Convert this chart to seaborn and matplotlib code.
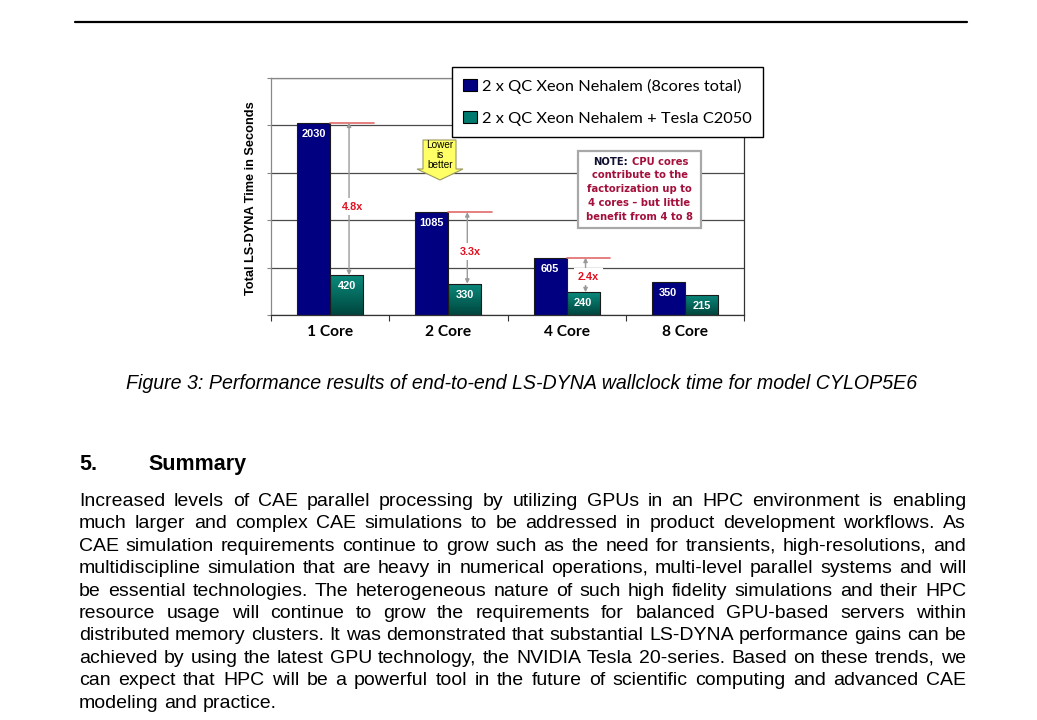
import numpy as np
import pandas as pd
import matplotlib
matplotlib.use("Agg")
import matplotlib.pyplot as plt
import seaborn as sns
from matplotlib.patches import Patch, Polygon, Rectangle
from matplotlib.lines import Line2D
from matplotlib.colors import LinearSegmentedColormap

# chart data
cores = ["1 Core", "2 Core", "4 Core", "8 Core"]
cpu_only = [2030, 1085, 605, 350]
cpu_gpu = [420, 330, 240, 215]
series_names = ["2 x QC Xeon Nehalem (8cores total)",
                "2 x QC Xeon Nehalem + Tesla C2050"]
speedup_labels = ["4.8x", "3.3x", "2.4x"]
y_ticks = [0, 500, 1000, 1500, 2000, 2500]

caption = "Figure 3: Performance results of end-to-end LS-DYNA wallclock time for model CYLOP5E6"
summary_lines = [
    "Increased levels of CAE parallel processing by utilizing GPUs in an HPC environment is enabling",
    "much larger and complex CAE simulations to be addressed in product development workflows. As",
    "CAE simulation requirements continue to grow such as the need for transients, high-resolutions, and",
    "multidiscipline simulation that are heavy in numerical operations, multi-level parallel systems and will",
    "be essential technologies. The heterogeneous nature of such high fidelity simulations and their HPC",
    "resource usage will continue to grow the requirements for balanced GPU-based servers within",
    "distributed memory clusters. It was demonstrated that substantial LS-DYNA performance gains can be",
    "achieved by using the latest GPU technology, the NVIDIA Tesla 20-series. Based on these trends, we",
    "can expect that HPC will be a powerful tool in the future of scientific computing and advanced CAE",
    "modeling and practice.",
]

df = pd.DataFrame({
    "config": cores * 2,
    "series": [series_names[0]] * len(cores) + [series_names[1]] * len(cores),
    "seconds": cpu_only + cpu_gpu,
})

NAVY = "#000080"
TEAL = "#007a6e"
CRIMSON = "#a3103c"

W, H = 1037, 720
def fx(x):
    return x / W
def fy(y):
    return 1 - y / H

sns.set_style("white")
plt.rcParams["text.color"] = "black"
plt.rcParams["axes.labelcolor"] = "black"
plt.rcParams["xtick.color"] = "black"
fig = plt.figure(figsize=(W / 100, H / 100), dpi=100)
fig.patch.set_facecolor("white")

ax = fig.add_axes([fx(271), fy(315), (744 - 271) / W, (315 - 78) / H])
sns.barplot(data=df, x="config", y="seconds", hue="series", order=cores,
            hue_order=series_names, palette=[NAVY, TEAL], saturation=1,
            width=0.56, errorbar=None, edgecolor="#1a1a1a", linewidth=0.8,
            legend=False, ax=ax)

# teal gradient on the GPU bars
teal_cmap = LinearSegmentedColormap.from_list("teal", ["#00463e", "#0a8a7c"])
grad = np.linspace(0, 1, 64).reshape(-1, 1)
for p in ax.containers[1]:
    x0, y0 = p.get_xy()
    im = ax.imshow(grad, extent=[x0, x0 + p.get_width(), y0, y0 + p.get_height()],
                   origin="lower", aspect="auto", cmap=teal_cmap, zorder=0.9)
    im.set_clip_path(p)
    p.set_facecolor("none")
    p.set_zorder(1)

ax.set_xlim(-0.5, len(cores) - 0.5)
ax.set_ylim(0, 2500)
ax.set_axisbelow(True)
ax.set_yticks(y_ticks)
ax.set_yticklabels([])
ax.yaxis.grid(True, color="#4a4a4a", lw=0.9)
ax.tick_params(axis="y", left=True, length=3, width=0.8, color="#888888")
ax.set_xticks(range(len(cores)))
ax.set_xticklabels(cores, family="Lato", weight="bold", fontsize=11.2, color="black")
ax.set_xticks(np.arange(-0.5, len(cores), 1.0), minor=True)
ax.tick_params(axis="x", which="major", length=0, pad=7)
ax.tick_params(axis="x", which="minor", bottom=True, length=4, width=0.8, color="#333333")
ax.set_xlabel("")
ax.set_ylabel("")
for side, col in [("left", "#888888"), ("top", "#888888"), ("right", "#333333"), ("bottom", "#333333")]:
    ax.spines[side].set_visible(True)
    ax.spines[side].set_color(col)
    ax.spines[side].set_linewidth(0.9)

# value labels inside the bars
for cont in ax.containers:
    for p, v in zip(cont, cont.datavalues):
        ax.annotate(f"{v:.0f}", xy=(p.get_x() + p.get_width() / 2, p.get_height()),
                    xytext=(0, -11), textcoords="offset pixels", ha="center", va="center",
                    color="white", weight="bold", fontsize=7.9,
                    family="Liberation Sans", zorder=3)

# speed-up markers
for i, lbl in enumerate(speedup_labels):
    top, bot = cpu_only[i], cpu_gpu[i]
    ax.plot([i, i + 0.37], [top, top], color="#e06a6a", lw=1.2, zorder=2)
    ax.annotate("", xy=(i + 0.16, bot), xytext=(i + 0.16, top),
                arrowprops=dict(arrowstyle="<|-|>", color="#9a9a9a", lw=1,
                                mutation_scale=6, shrinkA=0, shrinkB=0), zorder=2)
    ax.text(i + 0.185, 0.45 * top + 0.55 * bot, lbl, color="#e01020", weight="bold",
            fontsize=7.8, ha="center", va="center", zorder=3, family="Liberation Sans",
            bbox=dict(facecolor="white", edgecolor="none", pad=2.5))

fig.text(fx(251), fy(198), "Total LS-DYNA Time in Seconds", rotation=90,
         ha="center", va="center", weight="bold", fontsize=9.2, family="Liberation Sans")

# legend
handles = [Patch(facecolor=NAVY, edgecolor="black", lw=0.8),
           Patch(facecolor=TEAL, edgecolor="black", lw=0.8)]
fig.legend(handles=handles, labels=series_names, loc="upper left",
           bbox_to_anchor=(fx(452), fy(67)), bbox_transform=fig.transFigure,
           frameon=True, fancybox=False, edgecolor="black", framealpha=1,
           borderaxespad=0, borderpad=0.7, labelspacing=1.05, handlelength=0.8,
           handleheight=0.8, handletextpad=0.3,
           prop={"family": "Lato", "size": 11.8})

# "Lower is better" arrow
arrow_px = [(423, 140), (456, 140), (456, 169), (463, 169), (440, 180), (417, 169), (423, 169)]
fig.patches.append(Polygon([(fx(x), fy(y)) for x, y in arrow_px], closed=True,
                           transform=fig.transFigure, facecolor="#ffff66",
                           edgecolor="#9a9a60", lw=0.8, zorder=3))
for txt, yy in [("Lower", 145.5), ("is", 155.5), ("better", 165.5)]:
    fig.text(fx(440), fy(yy), txt, ha="center", va="center", fontsize=7.2,
             family="Liberation Sans", zorder=4)

# note box
fig.patches.append(Rectangle((fx(578), fy(228)), (701 - 578) / W, (228 - 151) / H,
                             transform=fig.transFigure, facecolor="white",
                             edgecolor="#a8a8a8", lw=1.6, zorder=3))
note_font = dict(fontsize=7.2, weight="bold", family="DejaVu Sans", zorder=4, va="center")
fig.text(fx(627.5), fy(161.7), "NOTE:", ha="right", color="#101030", **note_font)
fig.text(fx(631.5), fy(161.7), "CPU cores", ha="left", color=CRIMSON, **note_font)
for txt, yy in [("contribute to the", 175.5), ("factorization up to", 189.3),
                ("4 cores \u2013 but little", 203.0), ("benefit from 4 to 8", 216.7)]:
    fig.text(fx(639.5), fy(yy), txt, ha="center", color=CRIMSON, **note_font)

# page elements around the chart
fig.add_artist(Line2D([fx(75), fx(967)], [fy(22), fy(22)], color="black", lw=1.6,
                      transform=fig.transFigure))
fig.text(fx(522), fy(389), caption, ha="center", va="baseline", style="italic",
         fontsize=14.1, family="Liberation Sans")
fig.text(fx(79), fy(470), "5.", ha="left", va="baseline", weight="bold",
         fontsize=15.5, family="Liberation Sans")
fig.text(fx(148), fy(470), "Summary", ha="left", va="baseline", weight="bold",
         fontsize=15.5, family="Liberation Sans")

# justified paragraph
renderer = fig.canvas.get_renderer()
left, right = 79, 966
for k, line in enumerate(summary_lines):
    yb = fy(505.7 + 22.45 * k)
    words = line.split(" ")
    texts = [fig.text(0, yb, w, ha="left", va="baseline", fontsize=14,
                      family="Liberation Sans") for w in words]
    widths = [t.get_window_extent(renderer).width for t in texts]
    if k < len(summary_lines) - 1 and len(words) > 1:
        gap = (right - left - sum(widths)) / (len(words) - 1)
    else:
        gap = fig.text(0, 0, " ", fontsize=14, family="Liberation Sans").get_window_extent(renderer).width
    x = left
    for t, w in zip(texts, widths):
        t.set_x(fx(x))
        x += w + gap

fig.savefig("out.png", dpi=100, facecolor="white")
